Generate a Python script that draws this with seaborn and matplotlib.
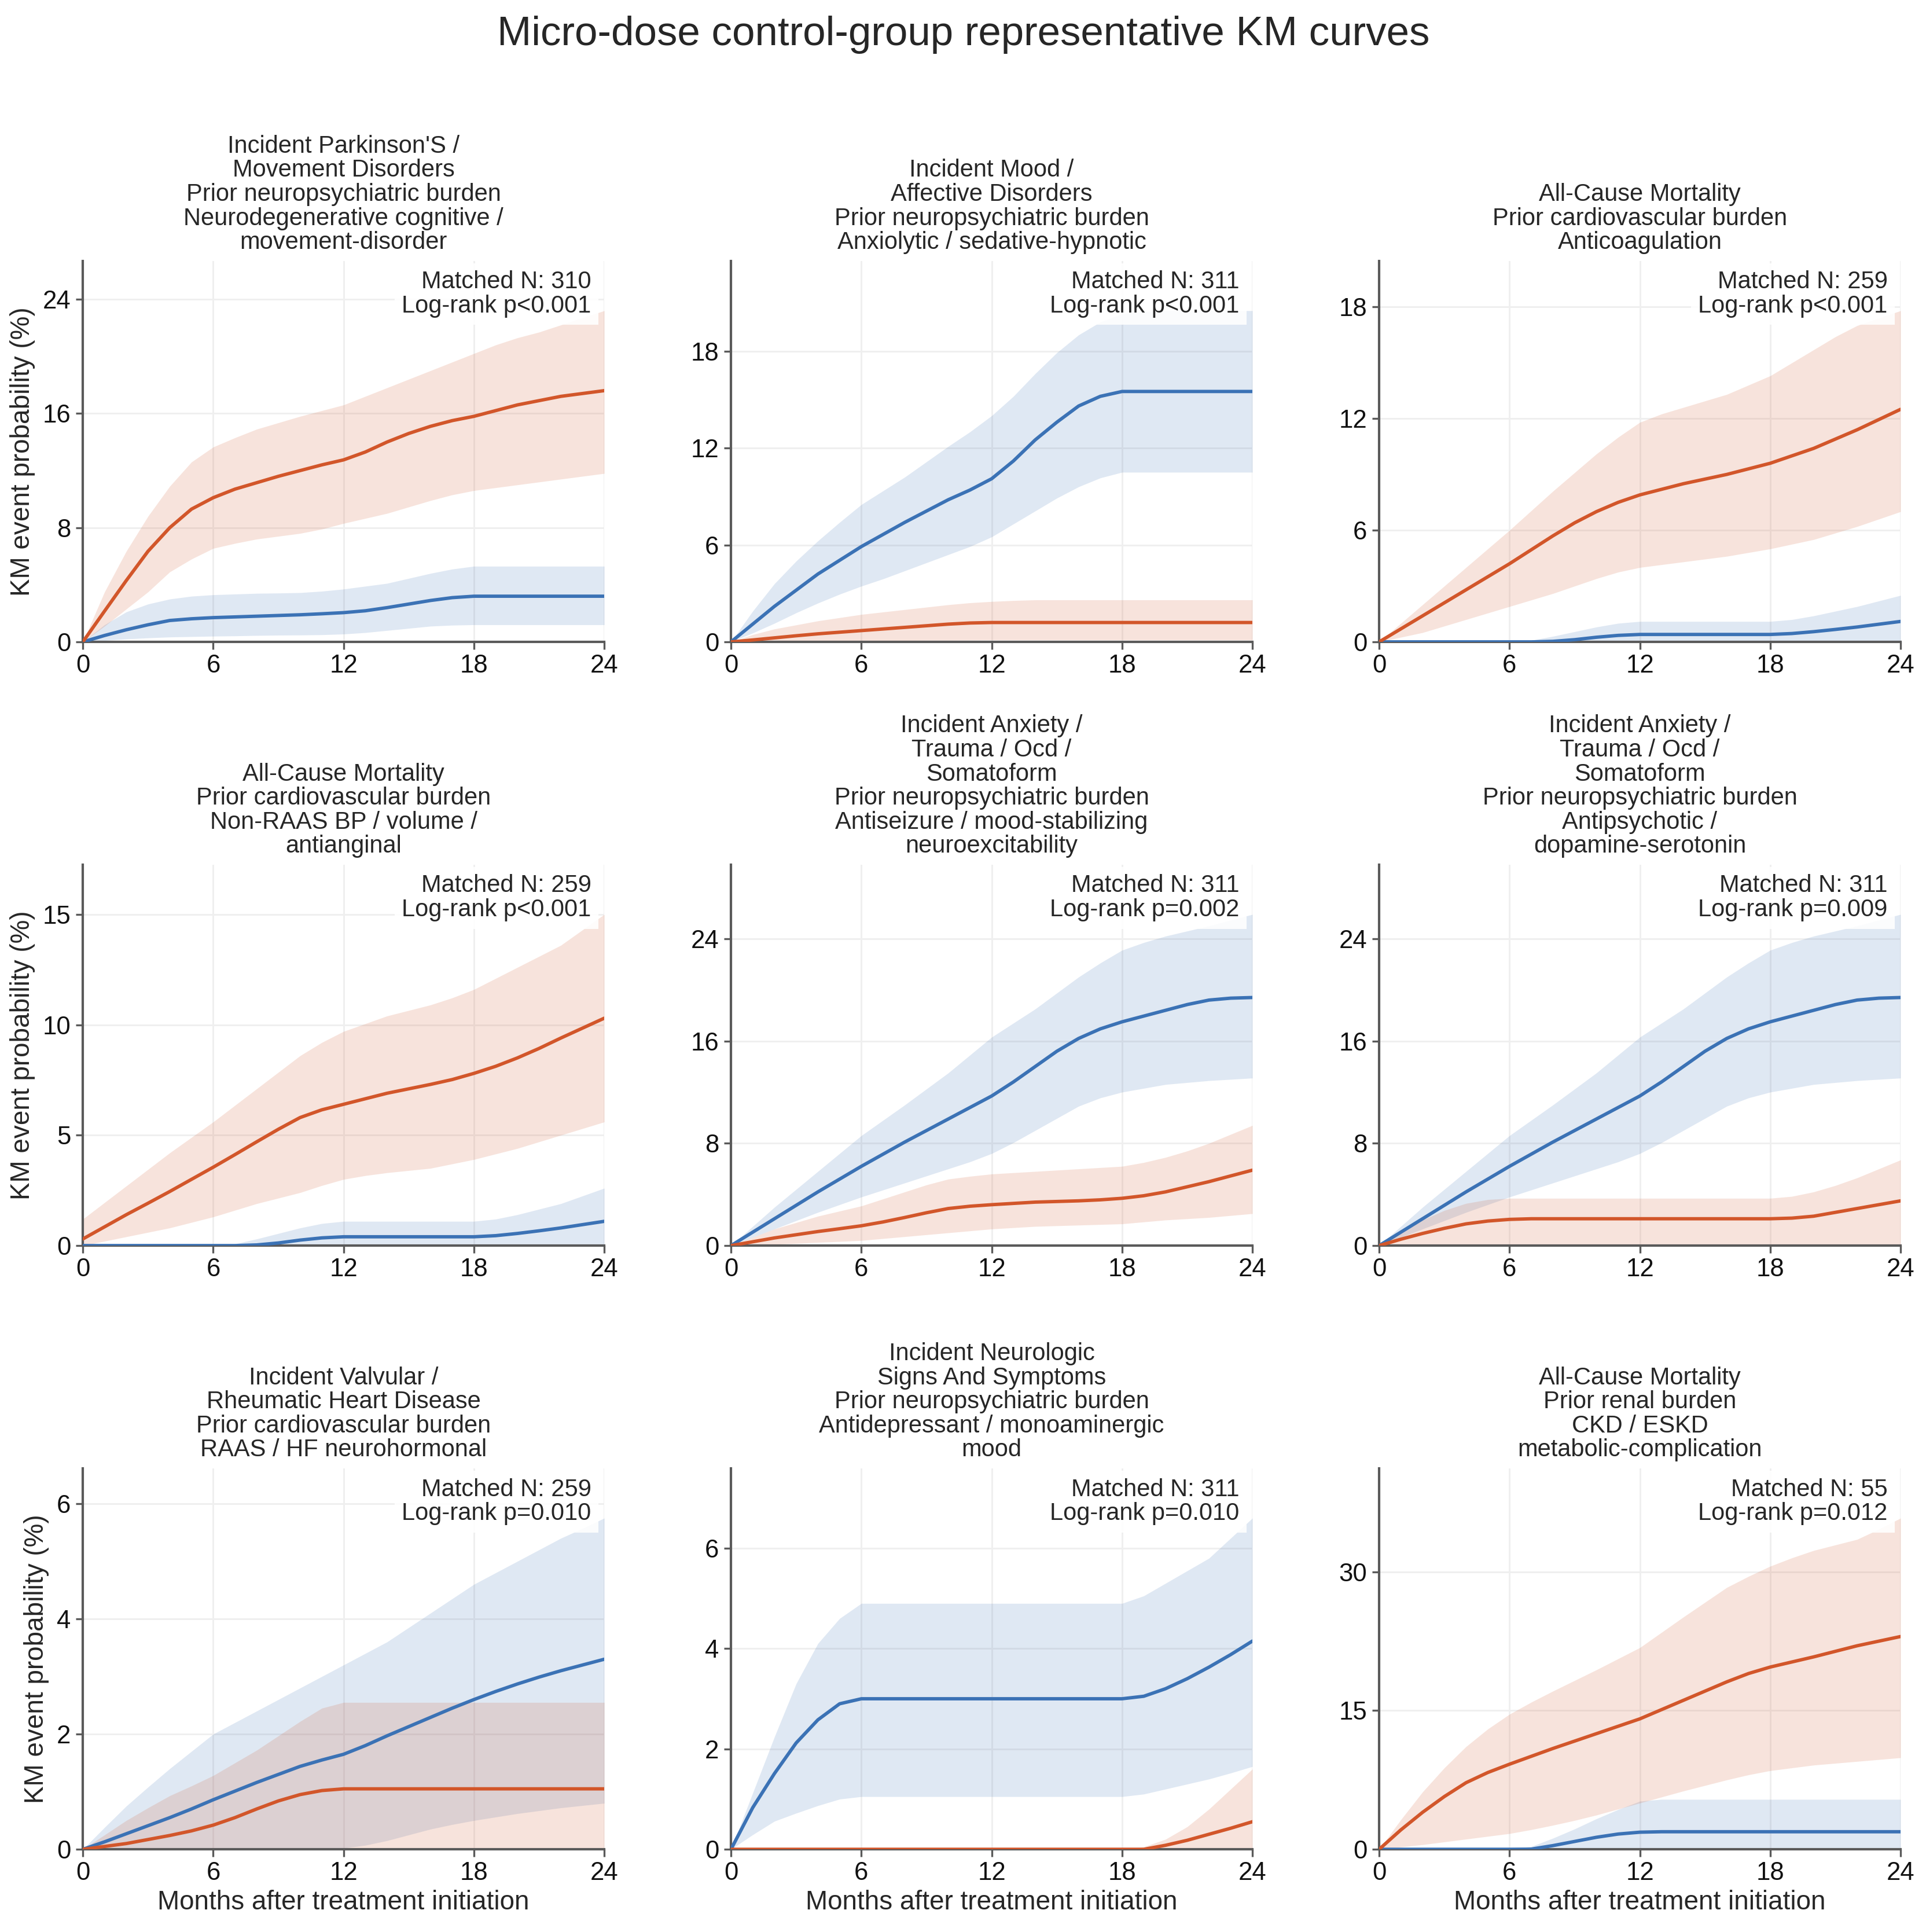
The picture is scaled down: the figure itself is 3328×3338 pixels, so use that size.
import numpy as np
import pandas as pd
import matplotlib
matplotlib.use("Agg")
import matplotlib.pyplot as plt
import seaborn as sns

MONTHS = list(range(25))
XTICKS = [0, 6, 12, 18, 24]
ZEROS = [0] * 25

BLUE = "#3b72b5"
ORANGE = "#d2562a"

SUPTITLE = "Micro-dose control-group representative KM curves"
XLABEL = "Months after treatment initiation"
YLABEL = "KM event probability (%)"

# panel 1
P1_TITLE = "Incident Parkinson'S /\nMovement Disorders\nPrior neuropsychiatric burden\nNeurodegenerative cognitive /\nmovement-disorder"
P1_N, P1_P = 310, "p<0.001"
P1_YTICKS = [0, 8, 16, 24]
P1_BLUE = [0, .45, .85, 1.2, 1.5, 1.62, 1.7, 1.75, 1.8, 1.85, 1.9, 1.97, 2.05, 2.18, 2.4, 2.65, 2.9, 3.1, 3.2, 3.2, 3.2, 3.2, 3.2, 3.2, 3.2]
P1_BLUE_LO = [0, .1, .2, .28, .34, .37, .4, .42, .45, .47, .48, .5, .55, .65, .8, .95, 1.1, 1.17, 1.2, 1.2, 1.2, 1.2, 1.2, 1.2, 1.2]
P1_BLUE_HI = [0, 1.2, 2.1, 2.65, 3.0, 3.2, 3.3, 3.35, 3.4, 3.42, 3.45, 3.55, 3.7, 3.9, 4.1, 4.45, 4.8, 5.1, 5.3, 5.3, 5.3, 5.3, 5.3, 5.3, 5.3]
P1_ORANGE = [0, 2.16, 4.3, 6.35, 8.0, 9.3, 10.1, 10.7, 11.15, 11.6, 12.0, 12.4, 12.75, 13.3, 14.0, 14.6, 15.1, 15.5, 15.8, 16.2, 16.6, 16.9, 17.2, 17.4, 17.6]
P1_ORANGE_LO = [0, 1.1, 2.3, 3.5, 4.9, 5.8, 6.55, 6.9, 7.2, 7.4, 7.6, 7.9, 8.3, 8.65, 9.0, 9.45, 9.9, 10.3, 10.6, 10.8, 11.0, 11.2, 11.4, 11.6, 11.8]
P1_ORANGE_HI = [0, 3.5, 6.35, 8.8, 10.9, 12.6, 13.65, 14.3, 14.9, 15.35, 15.8, 16.2, 16.6, 17.2, 17.8, 18.4, 19.0, 19.6, 20.2, 20.8, 21.3, 21.7, 22.2, 22.7, 23.2]

# panel 2
P2_TITLE = "Incident Mood /\nAffective Disorders\nPrior neuropsychiatric burden\nAnxiolytic / sedative-hypnotic"
P2_N, P2_P = 311, "p<0.001"
P2_YTICKS = [0, 6, 12, 18]
P2_BLUE = [0, 1.1, 2.2, 3.2, 4.2, 5.05, 5.9, 6.65, 7.4, 8.1, 8.8, 9.4, 10.1, 11.2, 12.5, 13.6, 14.6, 15.2, 15.5, 15.5, 15.5, 15.5, 15.5, 15.5, 15.5]
P2_BLUE_LO = [0, .55, 1.15, 1.8, 2.4, 2.95, 3.45, 3.9, 4.4, 4.9, 5.4, 5.9, 6.5, 7.3, 8.1, 8.9, 9.6, 10.15, 10.5, 10.5, 10.5, 10.5, 10.5, 10.5, 10.5]
P2_BLUE_HI = [0, 1.9, 3.6, 5.0, 6.25, 7.4, 8.5, 9.35, 10.2, 11.15, 12.1, 13.0, 14.0, 15.2, 16.6, 17.9, 19.0, 19.8, 20.3, 20.45, 20.5, 20.5, 20.5, 20.5, 20.5]
P2_ORANGE = [0, .12, .25, .38, .5, .6, .7, .8, .9, 1.0, 1.1, 1.17, 1.2, 1.2, 1.2, 1.2, 1.2, 1.2, 1.2, 1.2, 1.2, 1.2, 1.2, 1.2, 1.2]
P2_ORANGE_LO = [0, .01, .02, .035, .05, .06, .07, .08, .09, .1, .1, .11, .12, .12, .12, .12, .12, .12, .12, .12, .12, .12, .12, .12, .12]
P2_ORANGE_HI = [0, .45, .8, 1.05, 1.3, 1.5, 1.7, 1.85, 2.0, 2.15, 2.3, 2.42, 2.5, 2.56, 2.6, 2.6, 2.6, 2.6, 2.6, 2.6, 2.6, 2.6, 2.6, 2.6, 2.6]

# panel 3
P3_TITLE = "All-Cause Mortality\nPrior cardiovascular burden\nAnticoagulation"
P3_N, P3_P = 259, "p<0.001"
P3_YTICKS = [0, 6, 12, 18]
P3_BLUE = [0, 0, 0, 0, 0, 0, 0, 0, .03, .12, .25, .35, .4, .4, .4, .4, .4, .4, .4, .45, .55, .67, .8, .95, 1.1]
P3_BLUE_LO = ZEROS
P3_BLUE_HI = [0, 0, 0, 0, 0, 0, 0, .08, .3, .55, .8, 1.0, 1.1, 1.1, 1.1, 1.1, 1.1, 1.1, 1.1, 1.2, 1.4, 1.65, 1.9, 2.2, 2.5]
P3_ORANGE = [0, .7, 1.4, 2.1, 2.8, 3.5, 4.2, 4.95, 5.7, 6.4, 7.0, 7.5, 7.9, 8.2, 8.5, 8.75, 9.0, 9.3, 9.6, 10.0, 10.4, 10.9, 11.4, 11.95, 12.5]
P3_ORANGE_LO = [0, .25, .5, .85, 1.2, 1.55, 1.9, 2.25, 2.6, 3.0, 3.4, 3.75, 4.0, 4.15, 4.3, 4.45, 4.6, 4.8, 5.0, 5.25, 5.5, 5.85, 6.2, 6.6, 7.0]
P3_ORANGE_HI = [0, 1.0, 2.0, 3.0, 4.0, 5.0, 6.0, 7.05, 8.1, 9.1, 10.1, 11.0, 11.8, 12.25, 12.6, 12.95, 13.3, 13.8, 14.3, 15.0, 15.7, 16.4, 17.0, 17.4, 17.8]

# panel 4
P4_TITLE = "All-Cause Mortality\nPrior cardiovascular burden\nNon-RAAS BP / volume /\nantianginal"
P4_N, P4_P = 259, "p<0.001"
P4_YTICKS = [0, 5, 10, 15]
P4_BLUE = [0, 0, 0, 0, 0, 0, 0, 0, .03, .12, .25, .35, .4, .4, .4, .4, .4, .4, .4, .45, .55, .67, .8, .95, 1.1]
P4_BLUE_LO = ZEROS
P4_BLUE_HI = [0, 0, 0, 0, 0, 0, 0, .08, .3, .55, .8, 1.0, 1.1, 1.1, 1.1, 1.1, 1.1, 1.1, 1.1, 1.2, 1.4, 1.65, 1.9, 2.25, 2.6]
P4_ORANGE = [.3, .85, 1.4, 1.92, 2.45, 3.0, 3.55, 4.12, 4.7, 5.27, 5.8, 6.15, 6.4, 6.65, 6.9, 7.1, 7.3, 7.52, 7.8, 8.12, 8.5, 8.93, 9.4, 9.85, 10.3]
P4_ORANGE_LO = [0, .2, .4, .6, .8, 1.05, 1.3, 1.6, 1.9, 2.15, 2.4, 2.72, 3.0, 3.17, 3.3, 3.4, 3.5, 3.7, 3.9, 4.15, 4.4, 4.7, 5.0, 5.3, 5.6]
P4_ORANGE_HI = [1.2, 1.95, 2.7, 3.45, 4.2, 4.9, 5.6, 6.35, 7.1, 7.85, 8.6, 9.2, 9.7, 10.05, 10.4, 10.65, 10.9, 11.22, 11.6, 12.1, 12.6, 13.1, 13.6, 14.3, 15.0]

# panel 5
P5_TITLE = "Incident Anxiety /\nTrauma / Ocd /\nSomatoform\nPrior neuropsychiatric burden\nAntiseizure / mood-stabilizing\nneuroexcitability"
P5_N, P5_P = 311, "p=0.002"
P5_YTICKS = [0, 8, 16, 24]
P5_BLUE = [0, 1.05, 2.1, 3.15, 4.2, 5.2, 6.2, 7.15, 8.1, 9.0, 9.9, 10.8, 11.7, 12.8, 14.0, 15.2, 16.2, 16.95, 17.5, 17.95, 18.4, 18.85, 19.2, 19.35, 19.4]
P5_BLUE_LO = [0, .65, 1.3, 1.95, 2.6, 3.2, 3.8, 4.35, 4.9, 5.45, 6.0, 6.55, 7.2, 8.05, 9.0, 9.95, 10.9, 11.55, 12.0, 12.3, 12.6, 12.75, 12.9, 13.0, 13.1]
P5_BLUE_HI = [0, 1.5, 3.0, 4.4, 5.8, 7.2, 8.6, 9.8, 11.0, 12.25, 13.5, 14.9, 16.3, 17.4, 18.5, 19.75, 21.0, 22.1, 23.1, 23.7, 24.2, 24.6, 25.0, 25.45, 25.9]
P5_ORANGE = [0, .3, .6, .85, 1.1, 1.32, 1.55, 1.85, 2.2, 2.57, 2.9, 3.08, 3.2, 3.3, 3.4, 3.45, 3.5, 3.58, 3.7, 3.9, 4.2, 4.6, 5.0, 5.45, 5.9]
P5_ORANGE_LO = [0, .05, .1, .17, .25, .32, .4, .55, .7, .85, 1.0, 1.15, 1.3, 1.4, 1.5, 1.55, 1.6, 1.65, 1.7, 1.85, 2.0, 2.1, 2.2, 2.35, 2.5]
P5_ORANGE_HI = [0, .65, 1.3, 1.8, 2.3, 2.7, 3.1, 3.65, 4.2, 4.75, 5.2, 5.42, 5.6, 5.7, 5.8, 5.9, 6.0, 6.1, 6.2, 6.5, 6.9, 7.4, 8.0, 8.7, 9.4]

# panel 6
P6_TITLE = "Incident Anxiety /\nTrauma / Ocd /\nSomatoform\nPrior neuropsychiatric burden\nAntipsychotic /\ndopamine-serotonin"
P6_N, P6_P = 311, "p=0.009"
P6_YTICKS = [0, 8, 16, 24]
P6_BLUE = [0, 1.05, 2.1, 3.15, 4.2, 5.2, 6.2, 7.15, 8.1, 9.0, 9.9, 10.8, 11.7, 12.8, 14.0, 15.2, 16.2, 16.95, 17.5, 17.95, 18.4, 18.85, 19.2, 19.35, 19.4]
P6_BLUE_LO = [0, .65, 1.3, 1.95, 2.6, 3.2, 3.8, 4.35, 4.9, 5.45, 6.0, 6.55, 7.2, 8.05, 9.0, 9.95, 10.9, 11.55, 12.0, 12.3, 12.6, 12.75, 12.9, 13.0, 13.1]
P6_BLUE_HI = [0, 1.5, 3.0, 4.4, 5.8, 7.2, 8.6, 9.8, 11.0, 12.25, 13.5, 14.9, 16.3, 17.4, 18.5, 19.75, 21.0, 22.1, 23.1, 23.7, 24.2, 24.6, 25.0, 25.45, 25.9]
P6_ORANGE = [0, .5, .95, 1.35, 1.7, 1.92, 2.05, 2.1, 2.1, 2.1, 2.1, 2.1, 2.1, 2.1, 2.1, 2.1, 2.1, 2.1, 2.1, 2.15, 2.3, 2.6, 2.9, 3.2, 3.5]
P6_ORANGE_LO = ZEROS
P6_ORANGE_HI = [0, 1.05, 2.0, 2.75, 3.3, 3.6, 3.7, 3.7, 3.7, 3.7, 3.7, 3.7, 3.7, 3.7, 3.7, 3.7, 3.7, 3.7, 3.7, 3.85, 4.2, 4.7, 5.3, 6.0, 6.7]

# panel 7
P7_TITLE = "Incident Valvular /\nRheumatic Heart Disease\nPrior cardiovascular burden\nRAAS / HF neurohormonal"
P7_N, P7_P = 259, "p=0.010"
P7_YTICKS = [0, 2, 4, 6]
P7_BLUE = [0, .13, .27, .41, .55, .7, .86, 1.01, 1.16, 1.3, 1.44, 1.55, 1.65, 1.8, 1.97, 2.13, 2.29, 2.45, 2.6, 2.74, 2.87, 2.99, 3.1, 3.2, 3.3]
P7_BLUE_LO = [0, 0, 0, 0, 0, 0, 0, 0, 0, 0, 0, 0, .02, .07, .15, .25, .35, .43, .5, .56, .62, .67, .72, .76, .8]
P7_BLUE_HI = [0, .38, .75, 1.08, 1.4, 1.7, 2.0, 2.2, 2.4, 2.6, 2.8, 3.0, 3.2, 3.4, 3.6, 3.85, 4.1, 4.35, 4.6, 4.8, 5.0, 5.2, 5.4, 5.57, 5.75]
P7_ORANGE = [0, .05, .1, .17, .24, .32, .42, .55, .7, .84, .95, 1.02, 1.05, 1.05, 1.05, 1.05, 1.05, 1.05, 1.05, 1.05, 1.05, 1.05, 1.05, 1.05, 1.05]
P7_ORANGE_LO = ZEROS
P7_ORANGE_HI = [0, .25, .5, .72, .93, 1.1, 1.28, 1.5, 1.72, 1.97, 2.22, 2.45, 2.55, 2.55, 2.55, 2.55, 2.55, 2.55, 2.55, 2.55, 2.55, 2.55, 2.55, 2.55, 2.55]

# panel 8
P8_TITLE = "Incident Neurologic\nSigns And Symptoms\nPrior neuropsychiatric burden\nAntidepressant / monoaminergic\nmood"
P8_N, P8_P = 311, "p=0.010"
P8_YTICKS = [0, 2, 4, 6]
P8_BLUE = [0, .83, 1.51, 2.12, 2.58, 2.9, 3.0, 3.0, 3.0, 3.0, 3.0, 3.0, 3.0, 3.0, 3.0, 3.0, 3.0, 3.0, 3.0, 3.05, 3.2, 3.4, 3.63, 3.88, 4.15]
P8_BLUE_LO = [0, .29, .56, .72, .87, 1.0, 1.05, 1.05, 1.05, 1.05, 1.05, 1.05, 1.05, 1.05, 1.05, 1.05, 1.05, 1.05, 1.05, 1.1, 1.2, 1.3, 1.4, 1.52, 1.65]
P8_BLUE_HI = [0, 1.12, 2.24, 3.3, 4.1, 4.6, 4.9, 4.9, 4.9, 4.9, 4.9, 4.9, 4.9, 4.9, 4.9, 4.9, 4.9, 4.9, 4.9, 5.05, 5.3, 5.55, 5.8, 6.2, 6.6]
P8_ORANGE = [0, 0, 0, 0, 0, 0, 0, 0, 0, 0, 0, 0, 0, 0, 0, 0, 0, 0, 0, 0, .08, .18, .3, .42, .55]
P8_ORANGE_LO = ZEROS
P8_ORANGE_HI = [0, 0, 0, 0, 0, 0, 0, 0, 0, 0, 0, 0, 0, 0, 0, 0, 0, 0, 0, .05, .2, .45, .8, 1.2, 1.6]

# panel 9
P9_TITLE = "All-Cause Mortality\nPrior renal burden\nCKD / ESKD\nmetabolic-complication"
P9_N, P9_P = 55, "p=0.012"
P9_YTICKS = [0, 15, 30]
P9_BLUE = [0, 0, 0, 0, 0, 0, 0, .02, .4, .85, 1.3, 1.65, 1.85, 1.9, 1.9, 1.9, 1.9, 1.9, 1.9, 1.9, 1.9, 1.9, 1.9, 1.9, 1.9]
P9_BLUE_LO = ZEROS
P9_BLUE_HI = [0, 0, 0, 0, 0, 0, 0, .3, 1.2, 2.2, 3.3, 4.3, 5.2, 5.4, 5.4, 5.4, 5.4, 5.4, 5.4, 5.4, 5.4, 5.4, 5.4, 5.4, 5.4]
P9_ORANGE = [0, 2.1, 4.0, 5.7, 7.2, 8.3, 9.2, 10.05, 10.9, 11.7, 12.5, 13.3, 14.1, 15.1, 16.1, 17.1, 18.1, 19.0, 19.7, 20.25, 20.8, 21.4, 22.0, 22.5, 23.0]
P9_ORANGE_LO = [0, .25, .5, .8, 1.1, 1.4, 1.7, 2.12, 2.6, 3.12, 3.7, 4.35, 5.0, 5.65, 6.3, 6.9, 7.5, 8.05, 8.5, 8.8, 9.1, 9.3, 9.5, 9.7, 9.9]
P9_ORANGE_HI = [0, 3.2, 6.2, 8.8, 11.1, 13.0, 14.6, 15.9, 17.1, 18.25, 19.4, 20.6, 21.8, 23.45, 25.1, 26.7, 28.3, 29.5, 30.6, 31.5, 32.3, 32.9, 33.5, 34.6, 35.8]


panels = [
    (P1_TITLE, P1_N, P1_P, P1_YTICKS, (P1_BLUE, P1_BLUE_LO, P1_BLUE_HI), (P1_ORANGE, P1_ORANGE_LO, P1_ORANGE_HI)),
    (P2_TITLE, P2_N, P2_P, P2_YTICKS, (P2_BLUE, P2_BLUE_LO, P2_BLUE_HI), (P2_ORANGE, P2_ORANGE_LO, P2_ORANGE_HI)),
    (P3_TITLE, P3_N, P3_P, P3_YTICKS, (P3_BLUE, P3_BLUE_LO, P3_BLUE_HI), (P3_ORANGE, P3_ORANGE_LO, P3_ORANGE_HI)),
    (P4_TITLE, P4_N, P4_P, P4_YTICKS, (P4_BLUE, P4_BLUE_LO, P4_BLUE_HI), (P4_ORANGE, P4_ORANGE_LO, P4_ORANGE_HI)),
    (P5_TITLE, P5_N, P5_P, P5_YTICKS, (P5_BLUE, P5_BLUE_LO, P5_BLUE_HI), (P5_ORANGE, P5_ORANGE_LO, P5_ORANGE_HI)),
    (P6_TITLE, P6_N, P6_P, P6_YTICKS, (P6_BLUE, P6_BLUE_LO, P6_BLUE_HI), (P6_ORANGE, P6_ORANGE_LO, P6_ORANGE_HI)),
    (P7_TITLE, P7_N, P7_P, P7_YTICKS, (P7_BLUE, P7_BLUE_LO, P7_BLUE_HI), (P7_ORANGE, P7_ORANGE_LO, P7_ORANGE_HI)),
    (P8_TITLE, P8_N, P8_P, P8_YTICKS, (P8_BLUE, P8_BLUE_LO, P8_BLUE_HI), (P8_ORANGE, P8_ORANGE_LO, P8_ORANGE_HI)),
    (P9_TITLE, P9_N, P9_P, P9_YTICKS, (P9_BLUE, P9_BLUE_LO, P9_BLUE_HI), (P9_ORANGE, P9_ORANGE_LO, P9_ORANGE_HI)),
]


def draw_panel(ax, title, n, p, yticks, blue, orange):
    top = 0
    for (mean, lo, hi), color in [(blue, BLUE), (orange, ORANGE)]:
        ax.fill_between(MONTHS, lo, hi, color=color, alpha=0.16, lw=0, zorder=1)
        sns.lineplot(x=MONTHS, y=mean, color=color, lw=1.4, estimator=None, ax=ax, zorder=3)
        top = max(top, max(hi))

    ax.set_xlim(0, 24)
    ax.set_ylim(0, top * 1.15)
    ax.set_xticks(XTICKS)
    ax.set_yticks(yticks)
    ax.grid(True, color="#efefef", lw=0.7)
    sns.despine(ax=ax)
    for side in ["left", "bottom"]:
        ax.spines[side].set_color("#5a5a5a")
        ax.spines[side].set_linewidth(1.0)
    ax.tick_params(axis="both", labelsize=10.5, length=3, width=0.8, color="#5a5a5a",
                   bottom=True, left=True, pad=2, labelcolor="#111111")
    ax.set_title(title, fontsize=10, linespacing=1.05, pad=5)
    ax.text(0.975, 0.975, f"Matched N: {n}\nLog-rank {p}", transform=ax.transAxes,
            ha="right", va="top", fontsize=10, linespacing=1.05, zorder=5,
            bbox=dict(boxstyle="square,pad=0.3", fc="white", ec="none", alpha=0.9))


sns.set_theme(style="whitegrid")
plt.rcParams["font.family"] = ["Liberation Sans", "DejaVu Sans"]

fig, axes = plt.subplots(3, 3, figsize=(3329 / 300, 3338 / 300), dpi=300)
fig.subplots_adjust(left=0.043, right=0.9865, top=0.8649, bottom=0.0428, wspace=0.243, hspace=0.585)

for i, (ax, panel) in enumerate(zip(axes.flat, panels)):
    draw_panel(ax, *panel)
    ax.set_xlabel(XLABEL if i >= 6 else "", fontsize=11, labelpad=2)
    ax.set_ylabel(YLABEL if i % 3 == 0 else "", fontsize=11, labelpad=3)

fig.suptitle(SUPTITLE, fontsize=17, y=0.982, va="center")

fig.savefig("out.png", dpi=300)
